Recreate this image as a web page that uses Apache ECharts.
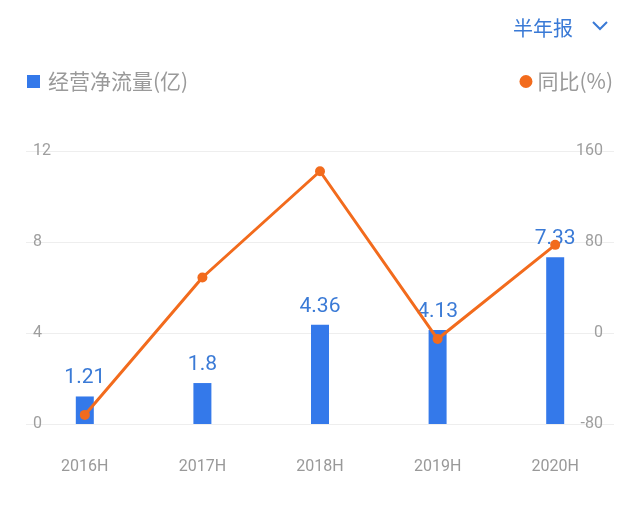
<!DOCTYPE html>
<html>
<head>
<meta charset="utf-8">
<script src="https://cdn.jsdelivr.net/npm/echarts@6/dist/echarts.min.js"></script>
<style>
html, body { margin: 0; padding: 0; background: #fff; }
#chart { width: 640px; height: 509px; }
</style>
</head>
<body>
<div id="chart"></div>
<script>
const periods = ['2016H', '2017H', '2018H', '2019H', '2020H'];
const cashFlow = [1.21, 1.8, 4.36, 4.13, 7.33];
const yoyPct = [-72, 48.8, 142.2, -5.3, 77.5];
const leftTicks = [0, 4, 8, 12];
const rightTicks = [-80, 0, 80, 160];

const fontCN = '"Noto Sans CJK SC", "Noto Sans", sans-serif';
const blue = '#3479ea';
const orange = '#f26b1d';

const chart = echarts.init(document.getElementById('chart'));
const option = {
    backgroundColor: '#fff',
    textStyle: { fontFamily: fontCN },
    title: {
        text: '半年报',
        right: 62,
        top: 13,
        textStyle: { color: '#3a7ad6', fontSize: 20, fontWeight: 'normal', fontFamily: fontCN }
    },
    graphic: [{
        type: 'polyline',
        shape: { points: [[593, 22], [600, 29], [607, 22]] },
        style: { stroke: '#3a7ad6', lineWidth: 2, fill: null }
    }],
    legend: [
        {
            data: [{ name: '经营净流量(亿)', icon: 'rect' }],
            left: 22,
            top: 66,
            itemWidth: 13,
            itemHeight: 13,
            itemGap: 10,
            textStyle: { color: '#9a9a9a', fontSize: 21, fontFamily: fontCN, padding: [0, 0, 0, 3] }
        },
        {
            data: [{ name: '同比(%)', icon: 'circle' }],
            right: 22,
            top: 66,
            itemWidth: 13,
            itemHeight: 13,
            textStyle: { color: '#9a9a9a', fontSize: 21, fontFamily: fontCN }
        }
    ],
    grid: { left: 26, right: 26, top: 151, bottom: 85 },
    xAxis: {
        type: 'category',
        data: periods,
        axisLine: { show: false },
        axisTick: { show: false },
        axisLabel: { color: '#999', fontSize: 16, margin: 35, fontFamily: 'Roboto, sans-serif' }
    },
    yAxis: [
        {
            type: 'value',
            min: leftTicks[0],
            max: leftTicks[leftTicks.length - 1],
            interval: 4,
            axisLine: { show: false },
            axisTick: { show: false },
            axisLabel: { inside: true, margin: 7, color: '#9e9e9e', fontSize: 16, fontFamily: 'Roboto, sans-serif' },
            splitLine: { lineStyle: { color: '#eeeeee', width: 1 } }
        },
        {
            type: 'value',
            min: rightTicks[0],
            max: rightTicks[rightTicks.length - 1],
            interval: 80,
            axisLine: { show: false },
            axisTick: { show: false },
            axisLabel: { inside: true, margin: 11, color: '#9e9e9e', fontSize: 16, fontFamily: 'Roboto, sans-serif' },
            splitLine: { show: false }
        }
    ],
    series: [
        {
            name: '经营净流量(亿)',
            type: 'bar',
            data: cashFlow,
            barWidth: 18,
            itemStyle: { color: blue },
            label: {
                show: true,
                position: 'top',
                distance: 8,
                color: '#3a7ad6',
                fontSize: 21,
                fontFamily: 'Roboto, sans-serif'
            }
        },
        {
            name: '同比(%)',
            type: 'line',
            yAxisIndex: 1,
            data: yoyPct,
            symbol: 'circle',
            symbolSize: 10,
            lineStyle: { color: orange, width: 3 },
            itemStyle: { color: orange },
            z: 5
        }
    ]
};
chart.setOption(option);
</script>
</body>
</html>
